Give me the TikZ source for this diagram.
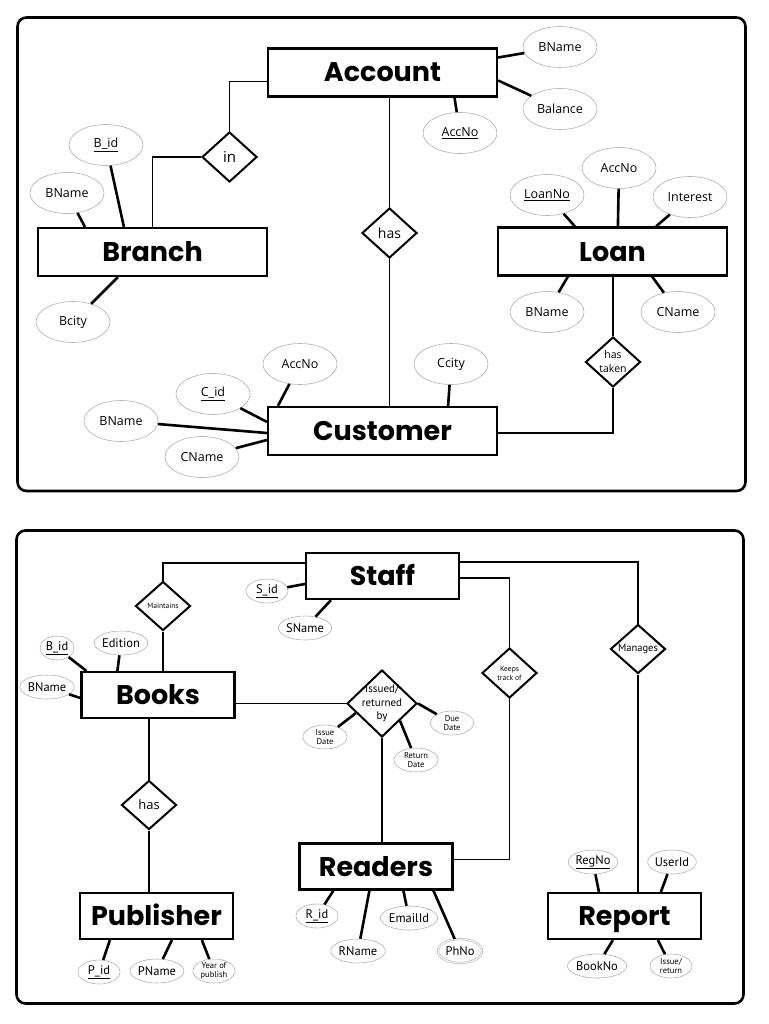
\documentclass[tikz,border=0pt]{standalone}
\usepackage{fontspec}
\setmainfont{Open Sans}
\newfontfamily\headfont{Poppins}
\newfontfamily\narrowfont{PT Sans}
\usetikzlibrary{shapes.geometric}

\begin{document}
\begin{tikzpicture}[x=1pt, y=-1pt]
  \tikzset{
    big_ent/.style={draw, line width=2.2pt, minimum width=229pt, minimum height=48pt, inner sep=0pt,
      text height=19pt, text depth=0pt, font=\headfont\bfseries\fontsize{27}{30}\selectfont},
    small_ent/.style={big_ent, minimum width=153pt, minimum height=46pt},
    rel_dia/.style={diamond, draw, line width=2pt, inner sep=0pt, minimum width=55pt, minimum height=50pt},
    rel_txt/.style={align=center, inner sep=0pt},
    top_attr/.style={ellipse, draw=gray!60, line width=0.6pt, inner sep=0pt,
      minimum width=74pt, minimum height=41pt, font=\fontsize{12.5}{14}\selectfont},
    low_attr/.style={ellipse, draw=gray!60, line width=0.6pt, inner sep=0pt,
      minimum width=42pt, minimum height=24pt, font=\narrowfont\fontsize{12.5}{14}\selectfont},
    tiny_attr/.style={low_attr, minimum width=44pt, align=center, font=\narrowfont\fontsize{8.5}{9}\selectfont},
    rel_line/.style={line width=1.6pt},
    attr_line/.style={line width=2.6pt},
  }

  \fill[white] (0,0) rectangle (768,1024);
  \useasboundingbox (0,0) rectangle (768,1024);

  % frames
  \draw[line width=2.6pt, rounded corners=9pt] (17.5,17.5) rectangle (745.5,491);
  \draw[line width=2.6pt, rounded corners=9pt] (16.5,530.5) rectangle (743.5,1003.5);

  % ---- bank ----
  \node[big_ent] (account) at (382.5,72.5) {Account};
  \node[big_ent] (branch) at (152.5,252) {Branch};
  \node[big_ent] (customer) at (382.5,431) {Customer};
  \node[big_ent] (loan) at (612.5,251.5) {Loan};

  \node[rel_dia, font=\fontsize{15}{17}\selectfont] (in_rel) at (229.5,157) {in};
  \node[rel_dia, font=\fontsize{14}{16}\selectfont] (has_rel) at (389.5,233) {has};
  \node[rel_dia] (taken_rel) at (613,362) {};
  \node[rel_txt, font=\fontsize{10.5}{14}\selectfont] (taken_txt) at (taken_rel) {has\\taken};

  \node[top_attr] (acc_bname) at (560,47) {BName};
  \node[top_attr] (acc_bal) at (560,109) {Balance};
  \node[top_attr] (acc_no) at (460,133) {\underline{AccNo}};

  \node[top_attr] (br_id) at (106,145) {\underline{B\_id}};
  \node[top_attr] (br_name) at (67,193) {BName};
  \node[top_attr] (br_city) at (73,322) {Bcity};

  \node[top_attr] (cu_acc) at (300,364) {AccNo};
  \node[top_attr] (cu_id) at (213,394) {\underline{C\_id}};
  \node[top_attr] (cu_name) at (121,421) {BName};
  \node[top_attr] (cu_cname) at (202,457) {CName};
  \node[top_attr] (cu_city) at (451,364) {Ccity};

  \node[top_attr] (lo_no) at (547,195) {\underline{LoanNo}};
  \node[top_attr] (lo_acc) at (619,168) {AccNo};
  \node[top_attr] (lo_int) at (690,197) {Interest};
  \node[top_attr] (lo_bname) at (547,312) {BName};
  \node[top_attr] (lo_cname) at (678,312) {CName};

  \draw[rel_line] ([yshift=-9pt]account.west) -| (in_rel.north);
  \draw[rel_line] (in_rel.west) -| (branch.north);
  \draw[rel_line] (has_rel.north) -- (has_rel.north |- account.south);
  \draw[rel_line] (has_rel.south) -- (has_rel.south |- customer.north);
  \draw[rel_line] (taken_rel.north) -- (taken_rel.north |- loan.south);
  \draw[rel_line] (taken_rel.south) |- ([yshift=-2pt]customer.east);

  \draw[attr_line] (acc_bname) -- ([yshift=15pt]account.east);
  \draw[attr_line] (acc_bal) -- ([yshift=-8pt]account.east);
  \draw[attr_line] (acc_no) -- ([xshift=72pt]account.south);
  \draw[attr_line] (br_id) -- ([xshift=87pt]branch.north west);
  \draw[attr_line] (br_name) -- ([xshift=48pt]branch.north west);
  \draw[attr_line] (br_city) -- ([xshift=81pt]branch.south west);
  \draw[attr_line] (cu_acc) -- ([xshift=11pt]customer.north west);
  \draw[attr_line] (cu_id) -- ([yshift=-16pt]customer.north west);
  \draw[attr_line] (cu_name) -- ([yshift=-2pt]customer.west);
  \draw[attr_line] (cu_cname) -- ([yshift=-9pt]customer.west);
  \draw[attr_line] (cu_city) -- ([xshift=-50pt]customer.north east);
  \draw[attr_line] (lo_no) -- ([xshift=78pt]loan.north west);
  \draw[attr_line] (lo_acc) -- ([xshift=121pt]loan.north west);
  \draw[attr_line] (lo_int) -- ([xshift=-72pt]loan.north east);
  \draw[attr_line] (lo_bname) -- ([xshift=71pt]loan.south west);
  \draw[attr_line] (lo_cname) -- ([xshift=-76pt]loan.south east);

  % ---- library ----
  \node[small_ent] (staff) at (382.5,576) {Staff};
  \node[small_ent] (books) at (158,695) {Books};
  \node[small_ent] (readers) at (376,866.5) {Readers};
  \node[small_ent] (publisher) at (156.5,916) {Publisher};
  \node[small_ent] (report) at (624.5,916) {Report};

  \node[rel_dia, minimum height=49pt, font=\narrowfont\fontsize{7.5}{9}\selectfont] (maint_rel) at (163,606) {Maintains};
  \node[rel_dia, minimum height=49pt, font=\fontsize{13}{15}\selectfont] (has2_rel) at (149,805) {has};
  \node[rel_dia, minimum width=70pt, minimum height=67pt] (issued_rel) at (382,703.5) {};
  \node[rel_txt, font=\narrowfont\fontsize{11}{13.5}\selectfont] (issued_txt) at (issued_rel) {Issued/\\returned\\by};
  \node[rel_dia] (keeps_rel) at (509.5,673) {};
  \node[rel_txt, font=\narrowfont\fontsize{7.5}{9}\selectfont] (keeps_txt) at (keeps_rel) {Keeps\\track of};
  \node[rel_dia, minimum height=49pt, aspect=1.2, font=\narrowfont\fontsize{10.5}{12}\selectfont] (manage_rel) at (638,649) {Manages};

  \node[low_attr] (st_id) at (267,591) {\underline{S\_id}};
  \node[low_attr] (st_name) at (305,628) {SName};
  \node[low_attr, minimum width=34pt] (bk_id) at (57,648) {\underline{B\_id}};
  \node[low_attr, minimum width=44pt] (bk_ed) at (121,643) {Edition};
  \node[low_attr] (bk_name) at (47,687) {BName};
  \node[tiny_attr] (is_idate) at (325,737) {Issue\\Date};
  \node[tiny_attr, minimum width=43pt] (is_ddate) at (452,723) {Due\\Date};
  \node[tiny_attr] (is_rdate) at (416,760) {Return\\Date};
  \node[low_attr] (rd_id) at (317,916) {\underline{R\_id}};
  \node[low_attr] (rd_name) at (358,951) {RName};
  \node[low_attr, minimum width=44pt] (rd_email) at (409,918) {EmailId};
  \node[low_attr, minimum width=44pt, double, double distance=1pt] (rd_ph) at (460,951) {PhNo};
  \node[low_attr] (pb_id) at (99,972) {\underline{P\_id}};
  \node[low_attr] (pb_name) at (157,971) {PName};
  \node[tiny_attr, minimum width=42pt] (pb_year) at (214,971) {Year of\\publish};
  \node[low_attr] (rp_reg) at (593,862) {\underline{RegNo}};
  \node[low_attr] (rp_user) at (672,862) {UserId};
  \node[low_attr] (rp_book) at (597,966) {BookNo};
  \node[tiny_attr, minimum width=42pt] (rp_issue) at (671,966) {Issue/\\return};

  \draw[rel_line] ([yshift=13pt]staff.west) -| (maint_rel.north);
  \draw[rel_line] (maint_rel.south) -- (maint_rel.south |- books.north);
  \draw[rel_line] ([yshift=14pt]staff.east) -| (manage_rel.north);
  \draw[rel_line] (manage_rel.south) -- (manage_rel.south |- report.north);
  \draw[rel_line] ([yshift=-2pt]staff.east) -| (keeps_rel.north);
  \draw[rel_line] (keeps_rel.south) |- ([yshift=7pt]readers.east);
  \draw[rel_line] (issued_rel.west) -- (issued_rel.west -| books.east);
  \draw[rel_line] (issued_rel.south) -- (issued_rel.south |- readers.north);
  \draw[rel_line] (has2_rel.north) -- (has2_rel.north |- books.south);
  \draw[rel_line] (has2_rel.south) -- (has2_rel.south |- publisher.north);

  \draw[attr_line] (st_id) -- ([yshift=-8pt]staff.west);
  \draw[attr_line] (st_name) -- ([xshift=26pt]staff.south west);
  \draw[attr_line] (bk_id) -- ([xshift=6pt]books.north west);
  \draw[attr_line] (bk_ed) -- ([xshift=37pt]books.north west);
  \draw[attr_line] (bk_name) -- ([yshift=-3pt]books.west);
  \draw[attr_line] (is_idate) -- (issued_rel.200);
  \draw[attr_line] (is_ddate) -- (issued_rel.east);
  \draw[attr_line] (is_rdate) -- (issued_rel.south east);
  \draw[attr_line] (rd_id) -- ([xshift=35pt]readers.south west);
  \draw[attr_line] (rd_name) -- ([xshift=71pt]readers.south west);
  \draw[attr_line] (rd_email) -- ([xshift=105pt]readers.south west);
  \draw[attr_line] (rd_ph) -- ([xshift=135pt]readers.south west);
  \draw[attr_line] (pb_id) -- ([xshift=31pt]publisher.south west);
  \draw[attr_line] (pb_name) -- ([xshift=93pt]publisher.south west);
  \draw[attr_line] (pb_year) -- ([xshift=123pt]publisher.south west);
  \draw[attr_line] (rp_reg) -- ([xshift=52pt]report.north west);
  \draw[attr_line] (rp_user) -- ([xshift=114pt]report.north west);
  \draw[attr_line] (rp_book) -- ([xshift=66pt]report.south west);
  \draw[attr_line] (rp_issue) -- ([xshift=111pt]report.south west);
\end{tikzpicture}
\end{document}
